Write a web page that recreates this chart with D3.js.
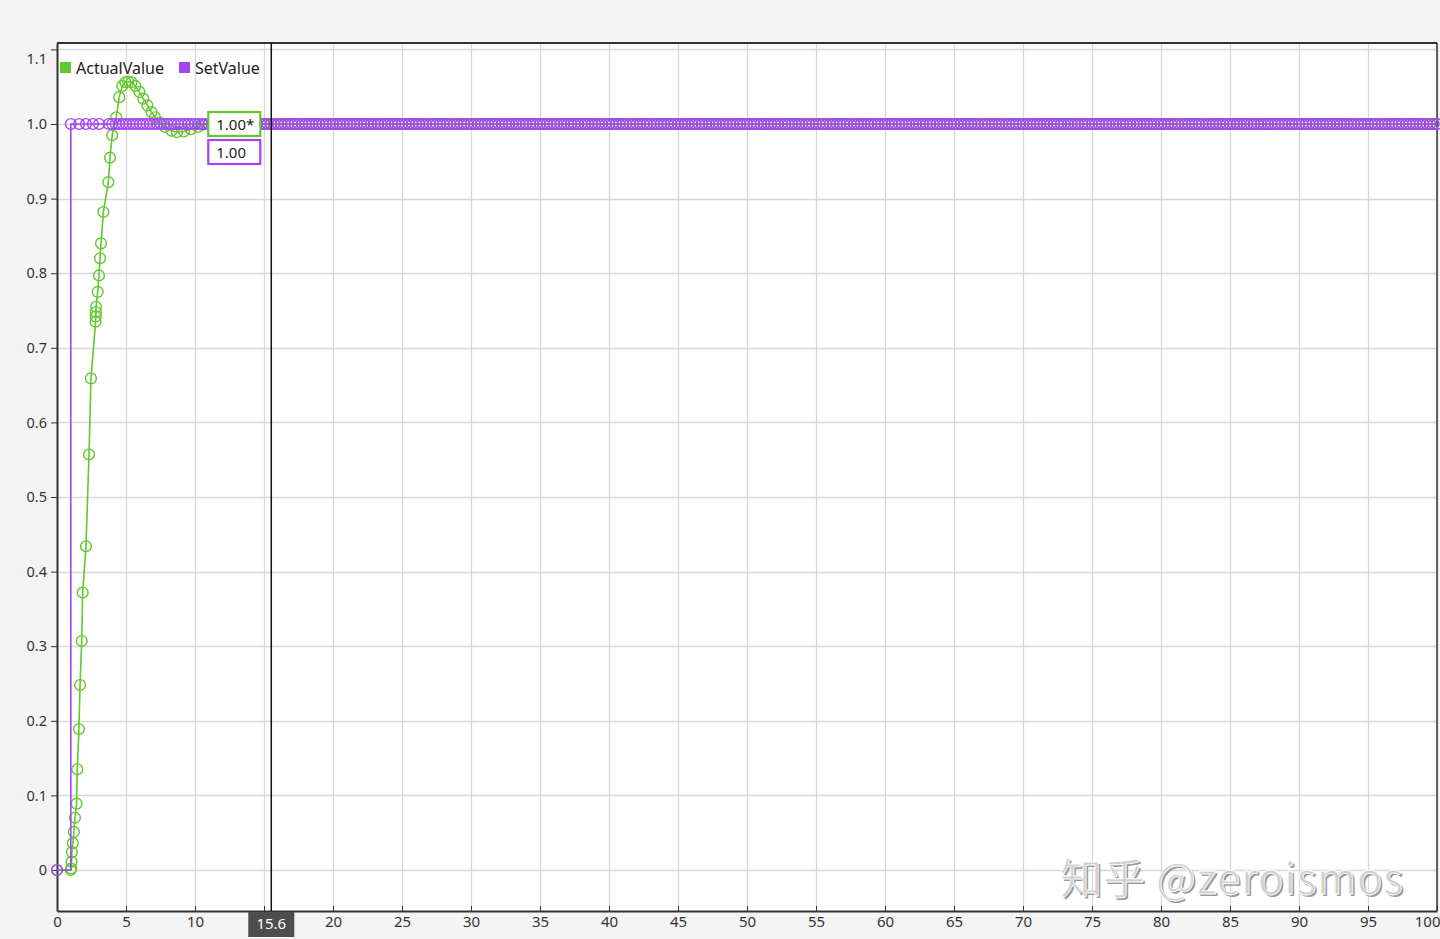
<!DOCTYPE html>
<html><head><meta charset="utf-8">
<script src="https://cdn.jsdelivr.net/npm/d3@7"></script>
<style>
body{margin:0;background:#f4f4f4;}
svg{display:block;font-family:"Noto Sans","Open Sans",sans-serif;}
</style>
</head><body>
<svg id="chart" width="1440" height="939"></svg>
<script>
// ---- data ----
const seriesNames = ["ActualValue", "SetValue"];
const actualTimes  = [0, 0.99, 1.03, 1.06, 1.08, 1.15, 1.22, 1.30, 1.42, 1.47, 1.59, 1.67, 1.79, 1.86, 2.10, 2.32, 2.46, 2.80, 2.81, 2.82, 2.83, 2.95, 3.04, 3.12, 3.19, 3.36, 3.72, 3.84, 4.00, 4.29, 4.51, 4.73, 4.95, 5.17, 5.40, 5.68, 5.97, 6.25, 6.55, 6.85, 7.10, 7.45, 7.80, 8.30, 8.70, 9.20, 9.70, 10.20, 10.60];
const actualValues = [0, 0.000, 0.002, 0.011, 0.024, 0.036, 0.051, 0.070, 0.089, 0.135, 0.189, 0.248, 0.307, 0.372, 0.434, 0.557, 0.659, 0.735, 0.742, 0.748, 0.755, 0.775, 0.797, 0.820, 0.840, 0.882, 0.922, 0.955, 0.985, 1.009, 1.036, 1.051, 1.056, 1.057, 1.056, 1.051, 1.043, 1.034, 1.025, 1.016, 1.009, 1.002, 0.996, 0.991, 0.989, 0.990, 0.993, 0.996, 0.999];
const setTimes  = [0, 1, 1.6, 2.1, 2.6, 3.05];
const setValues = [0, 1, 1, 1, 1, 1];
const tailTimes = [3.75,
4,4.25,4.5,4.75,5,5.25,5.5,5.75,6,6.25,6.5,6.75,7,7.25,7.5,7.75,8,8.25,8.5,8.75,9,9.25,9.5,9.75,
10,10.25,10.5,10.75,11,11.25,11.5,11.75,12,12.25,12.5,12.75,13,13.25,13.5,13.75,14,14.25,14.5,14.75,15,15.25,15.5,15.75,16,16.25,16.5,16.75,17,17.25,17.5,17.75,18,18.25,18.5,18.75,19,19.25,19.5,19.75,
20,20.25,20.5,20.75,21,21.25,21.5,21.75,22,22.25,22.5,22.75,23,23.25,23.5,23.75,24,24.25,24.5,24.75,25,25.25,25.5,25.75,26,26.25,26.5,26.75,27,27.25,27.5,27.75,28,28.25,28.5,28.75,29,29.25,29.5,29.75,
30,30.25,30.5,30.75,31,31.25,31.5,31.75,32,32.25,32.5,32.75,33,33.25,33.5,33.75,34,34.25,34.5,34.75,35,35.25,35.5,35.75,36,36.25,36.5,36.75,37,37.25,37.5,37.75,38,38.25,38.5,38.75,39,39.25,39.5,39.75,
40,40.25,40.5,40.75,41,41.25,41.5,41.75,42,42.25,42.5,42.75,43,43.25,43.5,43.75,44,44.25,44.5,44.75,45,45.25,45.5,45.75,46,46.25,46.5,46.75,47,47.25,47.5,47.75,48,48.25,48.5,48.75,49,49.25,49.5,49.75,
50,50.25,50.5,50.75,51,51.25,51.5,51.75,52,52.25,52.5,52.75,53,53.25,53.5,53.75,54,54.25,54.5,54.75,55,55.25,55.5,55.75,56,56.25,56.5,56.75,57,57.25,57.5,57.75,58,58.25,58.5,58.75,59,59.25,59.5,59.75,
60,60.25,60.5,60.75,61,61.25,61.5,61.75,62,62.25,62.5,62.75,63,63.25,63.5,63.75,64,64.25,64.5,64.75,65,65.25,65.5,65.75,66,66.25,66.5,66.75,67,67.25,67.5,67.75,68,68.25,68.5,68.75,69,69.25,69.5,69.75,
70,70.25,70.5,70.75,71,71.25,71.5,71.75,72,72.25,72.5,72.75,73,73.25,73.5,73.75,74,74.25,74.5,74.75,75,75.25,75.5,75.75,76,76.25,76.5,76.75,77,77.25,77.5,77.75,78,78.25,78.5,78.75,79,79.25,79.5,79.75,
80,80.25,80.5,80.75,81,81.25,81.5,81.75,82,82.25,82.5,82.75,83,83.25,83.5,83.75,84,84.25,84.5,84.75,85,85.25,85.5,85.75,86,86.25,86.5,86.75,87,87.25,87.5,87.75,88,88.25,88.5,88.75,89,89.25,89.5,89.75,
90,90.25,90.5,90.75,91,91.25,91.5,91.75,92,92.25,92.5,92.75,93,93.25,93.5,93.75,94,94.25,94.5,94.75,95,95.25,95.5,95.75,96,96.25,96.5,96.75,97,97.25,97.5,97.75,98,98.25,98.5,98.75,99,99.25,99.5,99.75,100];
const tailValues = [1,
1,1,1,1,1,1,1,1,1,1,1,1,1,1,1,1,1,1,1,1,1,1,1,1,
1,1,1,1,1,1,1,1,1,1,1,1,1,1,1,1,1,1,1,1,1,1,1,1,1,1,1,1,1,1,1,1,1,1,1,1,1,1,1,1,1,1,1,1,1,1,1,1,1,1,1,1,1,1,1,1,1,1,1,1,1,1,1,1,1,1,1,1,1,1,1,1,1,1,1,1,1,1,1,1,1,1,1,1,1,1,1,1,1,1,1,1,1,1,1,1,1,1,1,1,1,1,1,1,1,1,1,1,1,1,1,1,1,1,1,1,1,1,1,1,1,1,1,1,1,1,1,1,1,1,1,1,1,1,1,1,1,1,1,1,1,1,1,1,1,1,1,1,1,1,1,1,1,1,1,1,1,1,1,1,1,1,1,1,1,1,1,1,1,1,1,1,1,1,1,1,1,1,1,1,1,1,1,1,1,1,1,1,1,1,1,1,1,1,1,1,1,1,1,1,1,1,1,1,1,1,1,1,1,1,1,1,1,1,1,1,1,1,1,1,1,1,1,1,1,1,1,1,1,1,1,1,1,1,1,1,1,1,1,1,1,1,1,1,1,1,1,1,1,1,1,1,1,1,1,1,1,1,1,1,1,1,1,1,1,1,1,1,1,1,1,1,1,1,1,1,1,1,1,1,1,1,1,1,1,1,1,1,1,1,1,1,1,1,1,1,1,1,1,1,1,1,1,1,1,1,1,1,1,1,1,1,1,1,1,1,1,1,1,1,1,1,1,1,1,1,1,1,1,1,1,1,1,1,1,1,1,1,1,1,1,1,1,1,1,1,1,1,1,1,1,1,1,1,1,1,1,1,1,1,1,1,1,1,1,1,1,1,1,1,1,1,1,1,1,1,1,1,1,1,1,1,1,1,1,1,1,1];
const xTicks = [0,5,10,15,20,25,30,35,40,45,50,55,60,65,70,75,80,85,90,95,100];
const yTicks = [0,0.1,0.2,0.3,0.4,0.5,0.6,0.7,0.8,0.9,1.0,1.1];
const cursorTime = 15.6;
const tipLabels = ["1.00*", "1.00"];
const watermark = "知乎 @zeroismos";

// ---- build ----
const colors = {ActualValue: "#62c82e", SetValue: "#a345f1"};
const W = 1440, H = 939;
const L = 57, R = 1437, T = 43, B = 911;
const x = d3.scaleLinear().domain([0, 100]).range([L, R]);
const y = d3.scaleLinear().domain([-0.05496, 1.1086]).range([B, T]);

const svg = d3.select("#chart");
svg.append("rect").attr("width", W).attr("height", H).attr("fill", "#f4f4f4");
svg.append("rect").attr("x", L).attr("y", T).attr("width", R - L).attr("height", B - T).attr("fill", "#ffffff");

// grid
const grid = svg.append("g").attr("stroke", "#d8d8d8").attr("stroke-width", 1.3);
grid.selectAll(".gx").data(xTicks.slice(1)).join("line")
  .attr("x1", d => Math.round(x(d)) + 0.5).attr("x2", d => Math.round(x(d)) + 0.5)
  .attr("y1", T).attr("y2", B);
grid.selectAll(".gy").data(yTicks).join("line")
  .attr("x1", L).attr("x2", R)
  .attr("y1", d => Math.round(y(d)) + 0.5).attr("y2", d => Math.round(y(d)) + 0.5);

// axes
const xAxis = d3.axisBottom(x).tickValues(xTicks).tickSizeInner(-5).tickSizeOuter(0).tickPadding(8)
  .tickFormat(d => d === 15 ? "" : d3.format("d")(d));
const gx = svg.append("g").attr("transform", `translate(0,${B})`).call(xAxis);
gx.select(".domain").attr("stroke", "#333").attr("stroke-width", 2);
gx.selectAll(".tick line").attr("stroke", "#333");
gx.selectAll(".tick text").attr("font-size", 15).attr("fill", "#333")
  .attr("font-family", '"Noto Sans",sans-serif').attr("dy", "0.55em");
gx.selectAll(".tick").filter(d => d === 100).select("text").attr("text-anchor", "end").attr("x", 3);

const yAxis = d3.axisLeft(y).tickValues(yTicks).tickSize(6).tickSizeOuter(0).tickPadding(4)
  .tickFormat(d => d === 0 ? "0" : d3.format(".1f")(d));
const gy = svg.append("g").attr("transform", `translate(${L},0)`).call(yAxis);
gy.select(".domain").attr("stroke", "#333").attr("stroke-width", 2);
gy.selectAll(".tick line").attr("stroke", "#333");
gy.selectAll(".tick text").attr("font-size", 14.5).attr("fill", "#333")
  .attr("font-family", '"Noto Sans",sans-serif');
gy.selectAll(".tick").filter(d => d === 1.1).select("text").attr("dy", "0.95em");
gy.selectAll(".tick").filter(d => d === 0).select("text").attr("dy", "0.32em");

// frame top/right
svg.append("line").attr("x1", L).attr("x2", R).attr("y1", T).attr("y2", T).attr("stroke", "#333").attr("stroke-width", 2);
svg.append("line").attr("x1", R).attr("x2", R).attr("y1", T).attr("y2", B).attr("stroke", "#333").attr("stroke-width", 1.5);

// series data tables
const actualData = actualTimes.map((t, i) => ({t, v: actualValues[i]}))
  .concat(tailTimes.map((t, i) => ({t, v: tailValues[i]})).filter(d => d.t >= 11));
const setData = setTimes.map((t, i) => ({t, v: setValues[i]}))
  .concat(tailTimes.map((t, i) => ({t, v: tailValues[i]})));

function drawSeries(data, color, curve) {
  const line = d3.line().x(d => x(d.t)).y(d => y(d.v)).curve(curve);
  const g = svg.append("g");
  g.append("path").datum(data).attr("d", line).attr("fill", "none")
    .attr("stroke", color).attr("stroke-width", 1.6);
  g.selectAll("circle").data(data).join("circle")
    .attr("cx", d => x(d.t)).attr("cy", d => y(d.v)).attr("r", 5.4)
    .attr("fill", "none").attr("stroke", color).attr("stroke-width", 1.4);
}
drawSeries(actualData, colors.ActualValue, d3.curveLinear);
drawSeries(setData, colors.SetValue, d3.curveStepAfter);

// legend
const leg = svg.append("g");
const legX = [60, 179];
seriesNames.forEach((n, i) => {
  leg.append("rect").attr("x", legX[i]).attr("y", 62).attr("width", 11).attr("height", 11).attr("fill", colors[n]);
  leg.append("text").attr("x", legX[i] + 16).attr("y", 74).attr("font-size", 16).attr("fill", "#222").text(n);
});

// cursor
const cx = x(cursorTime) - 1;
svg.append("line").attr("x1", cx).attr("x2", cx).attr("y1", T).attr("y2", B).attr("stroke", "#111").attr("stroke-width", 1.5);
svg.append("rect").attr("x", cx - 23).attr("y", B + 1).attr("width", 46).attr("height", 25).attr("fill", "#4d4d4d");
svg.append("text").attr("x", cx).attr("y", B + 18).attr("text-anchor", "middle").attr("font-size", 15)
  .attr("fill", "#fff").text(d3.format(".1f")(cursorTime));

// data tips
const tipColors = [colors.ActualValue, colors.SetValue];
tipLabels.forEach((lab, i) => {
  const by = y(1) - 12 + i * 28;
  svg.append("rect").attr("x", cx - 63).attr("y", by).attr("width", 52).attr("height", 24)
    .attr("fill", "#fff").attr("stroke", tipColors[i]).attr("stroke-width", 2.2);
  svg.append("text").attr("x", cx - 55).attr("y", by + 17.5).attr("font-size", 15).attr("fill", "#222").text(lab);
});

// watermark
const wm = svg.append("g").attr("font-family", '"Noto Sans CJK SC","Noto Sans",sans-serif').attr("font-size", 42);
wm.append("text").attr("x", 1062).attr("y", 896).attr("fill", "#9a9a9a").attr("textLength", 343).text(watermark);
wm.append("text").attr("x", 1060).attr("y", 894).attr("fill", "#cfcfcf").attr("stroke", "#ffffff").attr("stroke-width", 0.8).attr("textLength", 343).text(watermark);
</script>
</body></html>
